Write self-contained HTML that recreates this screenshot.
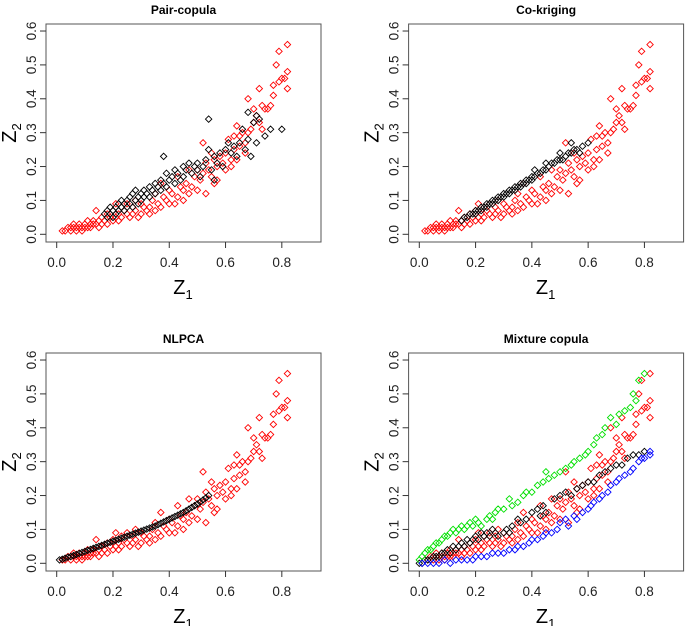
<!DOCTYPE html>
<html><head><meta charset="utf-8"><style>
body{margin:0;background:#fff;}
svg{display:block;font-family:"Liberation Sans",sans-serif;}
</style></head><body>
<svg id="chart" width="685" height="626" viewBox="0 0 685 626"></svg>
<script>
const xTicks=[0.0,0.2,0.4,0.6,0.8];
const yTicks=[0.0,0.1,0.2,0.3,0.4,0.5,0.6];
const panelTitles=["Pair-copula","Co-kriging","NLPCA","Mixture copula"];
const redObs=[[0.02,0.01],[0.03,0.01],[0.04,0.02],[0.05,0.01],[0.05,0.02],[0.06,0.03],[0.06,0.02],[0.07,0.02],[0.07,0.01],[0.08,0.03],[0.08,0.02],[0.09,0.02],[0.09,0.01],[0.10,0.03],[0.10,0.02],[0.11,0.04],[0.11,0.02],[0.12,0.03],[0.12,0.02],[0.13,0.04],[0.13,0.03],[0.14,0.07],[0.14,0.03],[0.15,0.04],[0.15,0.02],[0.16,0.05],[0.16,0.03],[0.17,0.04],[0.18,0.06],[0.18,0.03],[0.19,0.05],[0.20,0.07],[0.20,0.04],[0.21,0.09],[0.21,0.05],[0.22,0.06],[0.22,0.04],[0.23,0.08],[0.23,0.05],[0.24,0.07],[0.25,0.09],[0.25,0.06],[0.26,0.05],[0.27,0.08],[0.27,0.06],[0.28,0.10],[0.28,0.07],[0.29,0.05],[0.30,0.09],[0.30,0.06],[0.31,0.08],[0.32,0.07],[0.33,0.06],[0.33,0.08],[0.34,0.10],[0.35,0.07],[0.35,0.12],[0.36,0.09],[0.37,0.08],[0.37,0.15],[0.38,0.11],[0.39,0.10],[0.40,0.13],[0.40,0.09],[0.41,0.12],[0.42,0.09],[0.43,0.11],[0.43,0.17],[0.44,0.14],[0.45,0.10],[0.45,0.13],[0.46,0.15],[0.47,0.12],[0.47,0.19],[0.48,0.14],[0.49,0.17],[0.50,0.13],[0.50,0.19],[0.51,0.16],[0.52,0.27],[0.52,0.18],[0.53,0.12],[0.53,0.21],[0.54,0.19],[0.55,0.17],[0.55,0.24],[0.56,0.22],[0.56,0.15],[0.57,0.20],[0.57,0.16],[0.58,0.23],[0.59,0.21],[0.60,0.19],[0.60,0.24],[0.61,0.28],[0.62,0.22],[0.62,0.20],[0.63,0.29],[0.63,0.25],[0.64,0.32],[0.64,0.22],[0.65,0.26],[0.65,0.29],[0.66,0.30],[0.67,0.24],[0.67,0.27],[0.68,0.40],[0.68,0.30],[0.69,0.31],[0.70,0.37],[0.70,0.33],[0.71,0.35],[0.72,0.43],[0.72,0.33],[0.73,0.38],[0.73,0.31],[0.74,0.37],[0.75,0.37],[0.76,0.38],[0.77,0.41],[0.77,0.44],[0.78,0.50],[0.79,0.54],[0.79,0.45],[0.80,0.46],[0.81,0.46],[0.82,0.56],[0.82,0.48],[0.82,0.43]];
const pairCopula=[[0.17,0.06],[0.18,0.05],[0.18,0.07],[0.19,0.06],[0.19,0.08],[0.20,0.07],[0.20,0.05],[0.21,0.08],[0.21,0.06],[0.22,0.09],[0.22,0.07],[0.23,0.08],[0.23,0.10],[0.24,0.09],[0.24,0.07],[0.25,0.10],[0.25,0.08],[0.26,0.11],[0.26,0.09],[0.27,0.12],[0.27,0.08],[0.28,0.10],[0.28,0.13],[0.29,0.11],[0.29,0.09],[0.30,0.12],[0.30,0.10],[0.31,0.13],[0.31,0.11],[0.32,0.12],[0.33,0.14],[0.33,0.11],[0.34,0.13],[0.35,0.15],[0.35,0.12],[0.36,0.14],[0.37,0.16],[0.37,0.13],[0.38,0.23],[0.38,0.15],[0.39,0.18],[0.39,0.14],[0.40,0.16],[0.41,0.17],[0.42,0.15],[0.42,0.19],[0.43,0.18],[0.44,0.16],[0.45,0.20],[0.45,0.17],[0.46,0.19],[0.47,0.21],[0.48,0.18],[0.49,0.20],[0.50,0.19],[0.50,0.21],[0.51,0.17],[0.52,0.20],[0.53,0.22],[0.54,0.34],[0.54,0.25],[0.55,0.19],[0.56,0.23],[0.56,0.16],[0.57,0.21],[0.58,0.24],[0.59,0.20],[0.60,0.25],[0.61,0.27],[0.62,0.24],[0.63,0.26],[0.64,0.23],[0.65,0.27],[0.66,0.31],[0.67,0.25],[0.68,0.36],[0.68,0.28],[0.69,0.23],[0.70,0.33],[0.71,0.35],[0.71,0.27],[0.72,0.34],[0.74,0.29],[0.76,0.31],[0.80,0.31]];
const coKriging=[[0.15,0.04],[0.16,0.05],[0.17,0.05],[0.18,0.06],[0.19,0.06],[0.20,0.07],[0.20,0.06],[0.21,0.07],[0.22,0.08],[0.22,0.07],[0.23,0.08],[0.24,0.09],[0.24,0.08],[0.25,0.09],[0.26,0.10],[0.26,0.09],[0.27,0.10],[0.28,0.11],[0.28,0.10],[0.29,0.11],[0.30,0.12],[0.30,0.11],[0.31,0.12],[0.32,0.13],[0.32,0.12],[0.33,0.13],[0.34,0.14],[0.34,0.13],[0.35,0.14],[0.36,0.15],[0.36,0.14],[0.37,0.15],[0.38,0.16],[0.38,0.15],[0.39,0.16],[0.40,0.17],[0.40,0.16],[0.41,0.17],[0.42,0.18],[0.43,0.18],[0.44,0.19],[0.45,0.19],[0.46,0.20],[0.47,0.21],[0.48,0.21],[0.49,0.22],[0.50,0.22],[0.51,0.22],[0.52,0.23],[0.53,0.24],[0.54,0.24],[0.55,0.25],[0.56,0.25],[0.57,0.24],[0.58,0.26],[0.60,0.27],[0.54,0.27],[0.50,0.24],[0.45,0.21],[0.41,0.19]];
const nlpca=[[0.01,0.01],[0.02,0.012],[0.03,0.015],[0.04,0.018],[0.05,0.02],[0.06,0.023],[0.07,0.026],[0.08,0.029],[0.09,0.032],[0.10,0.035],[0.11,0.038],[0.12,0.041],[0.13,0.044],[0.14,0.047],[0.15,0.05],[0.16,0.053],[0.17,0.056],[0.18,0.059],[0.19,0.062],[0.20,0.065],[0.21,0.068],[0.22,0.071],[0.23,0.074],[0.24,0.077],[0.25,0.08],[0.26,0.083],[0.27,0.086],[0.28,0.089],[0.29,0.092],[0.30,0.095],[0.31,0.098],[0.32,0.101],[0.33,0.104],[0.34,0.107],[0.35,0.11],[0.36,0.114],[0.37,0.118],[0.38,0.122],[0.39,0.126],[0.40,0.13],[0.41,0.134],[0.42,0.138],[0.43,0.142],[0.44,0.146],[0.45,0.15],[0.46,0.155],[0.47,0.16],[0.48,0.165],[0.49,0.17],[0.50,0.175],[0.51,0.181],[0.52,0.187],[0.53,0.193],[0.54,0.20]];
const mixBlack=[[0.00,0.00],[0.01,0.00],[0.02,0.01],[0.03,0.01],[0.04,0.01],[0.05,0.02],[0.06,0.02],[0.07,0.02],[0.08,0.03],[0.09,0.03],[0.10,0.04],[0.11,0.03],[0.12,0.05],[0.13,0.04],[0.14,0.05],[0.15,0.06],[0.16,0.05],[0.17,0.07],[0.18,0.06],[0.19,0.07],[0.20,0.08],[0.21,0.07],[0.22,0.09],[0.23,0.08],[0.24,0.09],[0.25,0.08],[0.26,0.10],[0.27,0.09],[0.28,0.08],[0.30,0.09],[0.31,0.10],[0.32,0.09],[0.33,0.11],[0.35,0.13],[0.36,0.12],[0.38,0.13],[0.40,0.15],[0.42,0.16],[0.43,0.14],[0.44,0.17],[0.45,0.15],[0.48,0.19],[0.50,0.20],[0.52,0.21],[0.54,0.20],[0.56,0.22],[0.58,0.23],[0.60,0.24],[0.62,0.24],[0.64,0.26],[0.66,0.27],[0.68,0.28],[0.70,0.29],[0.72,0.29],[0.74,0.31],[0.76,0.32],[0.78,0.32],[0.80,0.33]];
const mixGreen=[[0.00,0.01],[0.01,0.02],[0.02,0.03],[0.03,0.04],[0.04,0.04],[0.05,0.05],[0.06,0.06],[0.07,0.06],[0.08,0.07],[0.09,0.08],[0.10,0.08],[0.11,0.09],[0.12,0.10],[0.13,0.09],[0.14,0.10],[0.15,0.11],[0.16,0.10],[0.17,0.11],[0.18,0.12],[0.19,0.11],[0.20,0.13],[0.21,0.12],[0.22,0.11],[0.24,0.13],[0.25,0.14],[0.26,0.13],[0.27,0.15],[0.28,0.16],[0.30,0.16],[0.32,0.19],[0.33,0.17],[0.35,0.18],[0.37,0.20],[0.38,0.21],[0.40,0.21],[0.42,0.23],[0.44,0.24],[0.45,0.27],[0.46,0.25],[0.48,0.26],[0.50,0.27],[0.52,0.28],[0.54,0.29],[0.55,0.30],[0.57,0.31],[0.59,0.32],[0.60,0.33],[0.62,0.35],[0.63,0.37],[0.65,0.38],[0.66,0.40],[0.68,0.43],[0.70,0.41],[0.71,0.44],[0.73,0.45],[0.75,0.46],[0.76,0.50],[0.77,0.48],[0.78,0.54],[0.80,0.56]];
const mixBlue=[[0.01,0.00],[0.03,0.00],[0.05,0.00],[0.07,0.00],[0.09,0.01],[0.11,0.00],[0.13,0.01],[0.15,0.01],[0.17,0.01],[0.19,0.01],[0.20,0.02],[0.22,0.02],[0.24,0.02],[0.26,0.03],[0.28,0.03],[0.30,0.03],[0.32,0.04],[0.34,0.04],[0.35,0.05],[0.37,0.05],[0.39,0.06],[0.40,0.07],[0.42,0.07],[0.44,0.08],[0.45,0.09],[0.47,0.09],[0.49,0.10],[0.50,0.12],[0.52,0.13],[0.53,0.11],[0.55,0.14],[0.56,0.13],[0.58,0.15],[0.60,0.16],[0.61,0.17],[0.62,0.18],[0.64,0.19],[0.65,0.20],[0.67,0.21],[0.68,0.23],[0.70,0.24],[0.71,0.25],[0.73,0.26],[0.75,0.27],[0.76,0.28],[0.78,0.30],[0.79,0.31],[0.80,0.31],[0.82,0.32],[0.82,0.33]];

const NS="http://www.w3.org/2000/svg";
const svg=document.getElementById('chart');
function mk(tag,attrs,parent,text){const e=document.createElementNS(NS,tag);for(const k in attrs)e.setAttribute(k,attrs[k]);if(text!==undefined)e.textContent=text;parent.appendChild(e);return e;}
const offsets=[[0,0],[362.6,0],[0,329],[362.6,329]];
const panelSeries=[
 [[redObs,'#ff0000'],[pairCopula,'#000000']],
 [[redObs,'#ff0000'],[coKriging,'#000000']],
 [[redObs,'#ff0000'],[nlpca,'#000000']],
 [[redObs,'#ff0000'],[mixBlack,'#000000'],[mixGreen,'#00e000'],[mixBlue,'#0000ff']]
];
const seriesNames=[["observed","pair-copula"],["observed","co-kriging"],["observed","nlpca"],["observed","mixture-black","mixture-green","mixture-blue"]];
panelTitles.forEach((title,pi)=>{
 const [ox,oy]=offsets[pi];
 const xs=v=>ox+56.7+v*281.4;
 const ys=v=>oy+234.3-v*338.8;
 const g=mk('g',{},svg);
 
 
 const t=mk('text',{x:ox+183.5,y:oy+14,'text-anchor':'middle','font-size':'12','font-weight':'bold'},g,title);
 
 
 const box=mk('rect',{x:ox+46,y:oy+24,width:275,height:218,fill:'none',stroke:'#555','stroke-width':1},g);
 
 
 xTicks.forEach(v=>{
  mk('line',{x1:xs(v),x2:xs(v),y1:oy+242,y2:oy+248,stroke:'#333'},g);
  const l=mk('text',{x:xs(v),y:oy+267,'text-anchor':'middle','font-size':'13.5',fill:'#222'},g,v.toFixed(1));
  
  
 });
 yTicks.forEach(v=>{
  mk('line',{x1:ox+40,x2:ox+46,y1:ys(v),y2:ys(v),stroke:'#333'},g);
  const l=mk('text',{x:ox+36,y:ys(v),'text-anchor':'middle','font-size':'13.5',fill:'#222',transform:`rotate(-90 ${ox+36} ${ys(v)})`},g,v.toFixed(1));
  
  
 });
 const xl=mk('text',{x:ox+183,y:oy+294,'text-anchor':'middle','font-size':'20'},g);
 
 
 mk('tspan',{},xl,'Z');mk('tspan',{dy:5,'font-size':'13'},xl,'1');
 const yl=mk('text',{x:ox+16,y:oy+133,'text-anchor':'middle','font-size':'20',transform:`rotate(-90 ${ox+16} ${oy+133})`},g);
 
 
 mk('tspan',{},yl,'Z');mk('tspan',{dy:5,'font-size':'13'},yl,'2');
 panelSeries[pi].forEach(([data,col],si)=>{
  const sg=mk('g',{fill:'none',stroke:col,'stroke-width':0.9},g);
  
  
  data.forEach(([a,b])=>{
   const cx=xs(a),cy=ys(b),r=3.2;
   const p=mk('path',{d:`M${cx} ${cy-r}L${cx+r} ${cy}L${cx} ${cy+r}L${cx-r} ${cy}Z`},sg);
   
   
  });
 });
});
</script>
</body></html>
